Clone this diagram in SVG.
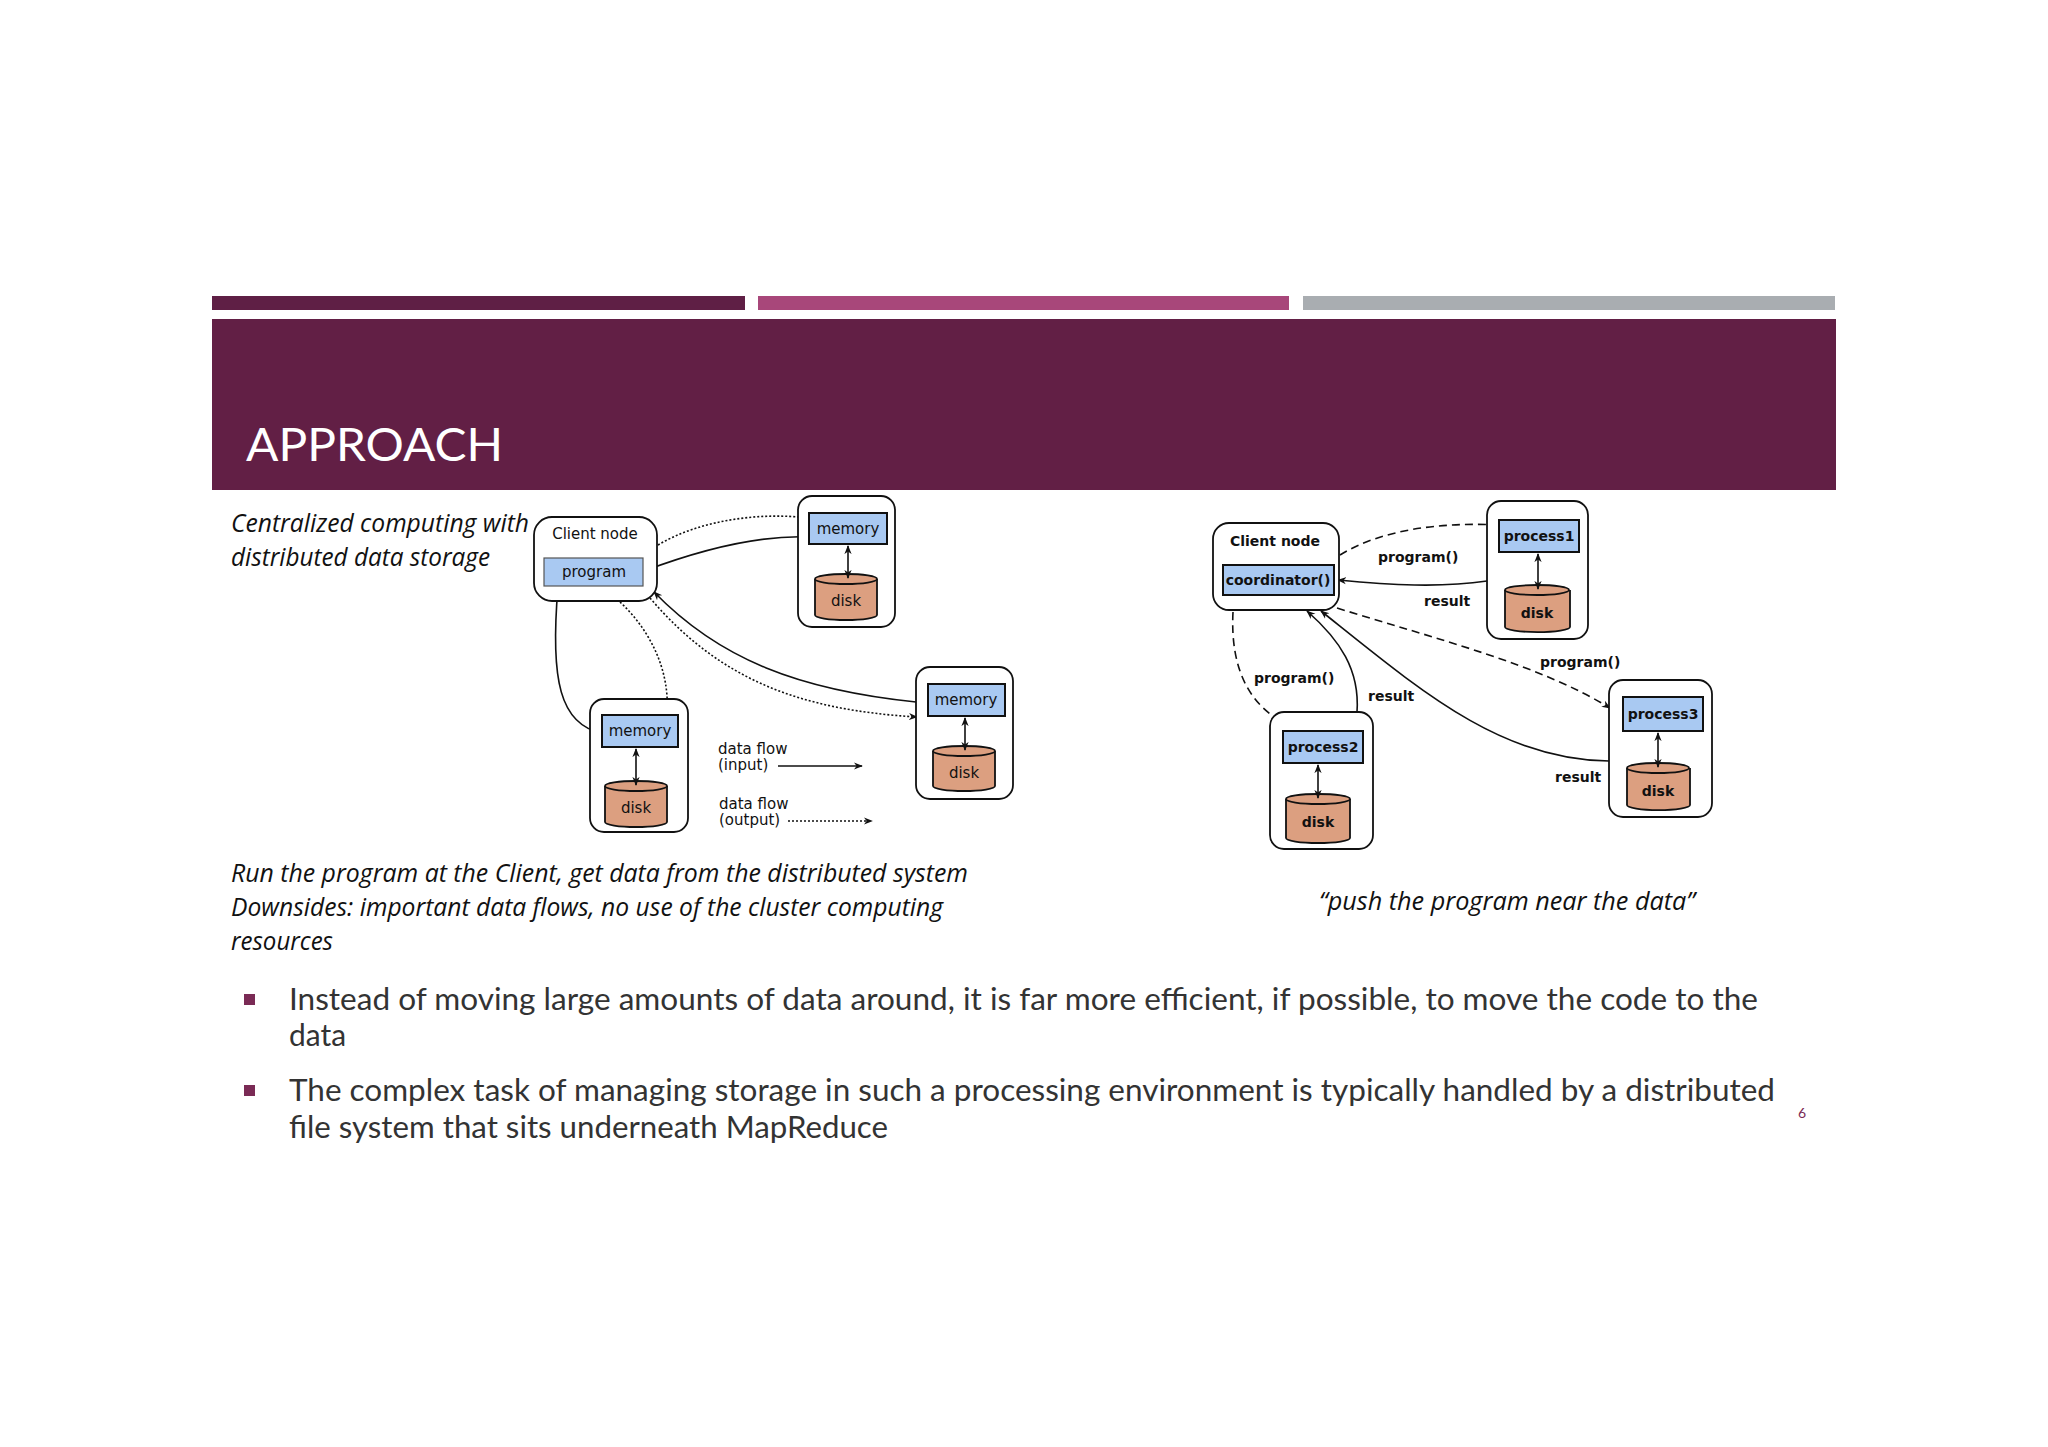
<svg xmlns="http://www.w3.org/2000/svg" width="2048" height="1447" viewBox="0 0 2048 1447">
<style>
.nb{fill:#fff;stroke:#111;stroke-width:1.8}
.bx{fill:#a9c9f2;stroke:#111;stroke-width:2}
.bx2{fill:#a9c9f2;stroke:#555;stroke-width:1.2}
.dk{fill:#dc9f80;stroke:#111;stroke-width:1.8}
.dt{font-family:"DejaVu Sans",sans-serif;font-size:15px;fill:#111;text-anchor:middle}
.lb{font-family:"DejaVu Sans",sans-serif;font-size:14px;font-weight:bold;fill:#111}
.it{font-family:"Open Sans","Liberation Sans",sans-serif;font-style:italic;font-size:26px;fill:#111}
.bt{font-family:"Lato","Liberation Sans",sans-serif;font-size:31px;fill:#333}
.s{fill:none;stroke:#111;stroke-width:1.6}
.d{fill:none;stroke:#111;stroke-width:1.6;stroke-dasharray:2 2}
.da{fill:none;stroke:#111;stroke-width:1.6;stroke-dasharray:8 5}
</style>
<defs>
<marker id="a" viewBox="0 0 10 10" refX="9" refY="5" markerWidth="9" markerHeight="9" markerUnits="userSpaceOnUse" orient="auto-start-reverse"><path d="M0,1 L10,5 L0,9 L3,5 z" fill="#111"/></marker>
</defs>
<rect width="2048" height="1447" fill="#fff"/>
<rect x="212" y="296" width="533" height="14" fill="#5f1f45"/>
<rect x="758" y="296" width="531" height="14" fill="#a8477a"/>
<rect x="1303" y="296" width="532" height="14" fill="#a9adb1"/>
<rect x="212" y="319" width="1624" height="171" fill="#621f45"/>
<text x="246" y="461" font-family="Lato,'Liberation Sans',sans-serif" font-size="47" fill="#fff" textLength="257" lengthAdjust="spacingAndGlyphs">APPROACH</text>

<text class="it" x="231" y="532" textLength="298" lengthAdjust="spacingAndGlyphs">Centralized computing with</text>
<text class="it" x="231" y="566" textLength="259" lengthAdjust="spacingAndGlyphs">distributed data storage</text>

<g id="connectors-left">
<path class="d" d="M658,545 C700,520 760,512 808,518" marker-end="url(#a)"/>
<path class="s" d="M809,537 C760,535 700,550 644,571" marker-end="url(#a)"/>
<path class="s" d="M602,733 C560,725 550,680 558,587" marker-end="url(#a)"/>
<path class="d" d="M620,602 C650,630 670,670 667,713" marker-end="url(#a)"/>
<path class="s" d="M916,702 C800,690 720,660 654,592" marker-end="url(#a)"/>
<path class="d" d="M650,598 C720,680 800,710 917,717" marker-end="url(#a)"/>
<path class="s" d="M778,766 L862,766" marker-end="url(#a)"/>
<path class="d" d="M788,821 L872,821" marker-end="url(#a)"/>
</g>

<g id="client-left">
<rect class="nb" x="534" y="517" width="123" height="84" rx="18"/>
<text class="dt" x="595" y="539">Client node</text>
<rect class="bx2" x="544" y="558" width="99" height="28"/>
<text class="dt" x="594" y="577">program</text>
</g>
<g id="node-top">
<rect class="nb" x="798" y="496" width="97" height="131" rx="14"/>
<rect class="bx" x="809" y="513" width="78" height="31"/>
<text class="dt" x="848" y="534">memory</text>
<path class="dk" d="M815,579 v36 a31,5 0 0 0 62,0 v-36"/>
<ellipse class="dk" cx="846" cy="579" rx="31" ry="5"/>
<text class="dt" x="846" y="606">disk</text>
<path class="s" d="M848,546 L848,578" marker-start="url(#a)" marker-end="url(#a)"/>
</g>
<g id="node-bl">
<rect class="nb" x="590" y="699" width="98" height="133" rx="14"/>
<rect class="bx" x="602" y="715" width="76" height="32"/>
<text class="dt" x="640" y="736">memory</text>
<path class="dk" d="M605,786 v36 a31,5 0 0 0 62,0 v-36"/>
<ellipse class="dk" cx="636" cy="786" rx="31" ry="5"/>
<text class="dt" x="636" y="813">disk</text>
<path class="s" d="M636,749 L636,785" marker-start="url(#a)" marker-end="url(#a)"/>
</g>
<g id="node-right">
<rect class="nb" x="916" y="667" width="97" height="132" rx="14"/>
<rect class="bx" x="928" y="684" width="77" height="32"/>
<text class="dt" x="966" y="705">memory</text>
<path class="dk" d="M933,751 v35 a31,5 0 0 0 62,0 v-35"/>
<ellipse class="dk" cx="964" cy="751" rx="31" ry="5"/>
<text class="dt" x="964" y="778">disk</text>
<path class="s" d="M965,718 L965,750" marker-start="url(#a)" marker-end="url(#a)"/>
</g>
<g id="legend">
<text class="dt" x="718" y="754" text-anchor="start" style="text-anchor:start">data flow</text>
<text class="dt" x="718" y="770" style="text-anchor:start">(input)</text>
<text class="dt" x="719" y="809" style="text-anchor:start">data flow</text>
<text class="dt" x="719" y="825" style="text-anchor:start">(output)</text>
</g>

<g id="connectors-right">
<path class="da" d="M1340,555 C1380,530 1440,522 1497,525" marker-end="url(#a)"/>
<path class="s" d="M1487,581 C1440,588 1390,585 1338,580" marker-end="url(#a)"/>
<path class="da" d="M1337,608 C1440,640 1540,665 1610,708" marker-end="url(#a)"/>
<path class="s" d="M1609,761 C1500,760 1420,690 1321,611" marker-end="url(#a)"/>
<path class="da" d="M1233,612 C1230,670 1250,710 1295,728" marker-end="url(#a)"/>
<path class="s" d="M1357,712 C1360,670 1340,640 1307,611" marker-end="url(#a)"/>
</g>
<g id="labels-right">
<text class="lb" x="1378" y="562">program()</text>
<text class="lb" x="1424" y="606">result</text>
<text class="lb" x="1540" y="667">program()</text>
<text class="lb" x="1254" y="683">program()</text>
<text class="lb" x="1368" y="701">result</text>
<text class="lb" x="1555" y="782">result</text>
</g>
<g id="client-right">
<rect class="nb" x="1213" y="523" width="126" height="87" rx="16"/>
<text class="lb" x="1275" y="546" text-anchor="middle">Client node</text>
<rect class="bx" x="1223" y="565" width="111" height="30"/>
<text class="lb" x="1278" y="585" text-anchor="middle">coordinator()</text>
</g>
<g id="process1">
<rect class="nb" x="1487" y="501" width="101" height="138" rx="14"/>
<rect class="bx" x="1499" y="520" width="80" height="32"/>
<text class="lb" x="1539" y="541" text-anchor="middle">process1</text>
<path class="dk" d="M1505,590 v37 a32,5 0 0 0 65,0 v-37"/>
<ellipse class="dk" cx="1537" cy="590" rx="32" ry="5"/>
<text class="lb" x="1537" y="618" text-anchor="middle">disk</text>
<path class="s" d="M1538,554 L1538,589" marker-start="url(#a)" marker-end="url(#a)"/>
</g>
<g id="process2">
<rect class="nb" x="1270" y="712" width="103" height="137" rx="14"/>
<rect class="bx" x="1283" y="731" width="80" height="32"/>
<text class="lb" x="1323" y="752" text-anchor="middle">process2</text>
<path class="dk" d="M1286,799 v39 a32,5 0 0 0 64,0 v-39"/>
<ellipse class="dk" cx="1318" cy="799" rx="32" ry="5"/>
<text class="lb" x="1318" y="827" text-anchor="middle">disk</text>
<path class="s" d="M1318,765 L1318,798" marker-start="url(#a)" marker-end="url(#a)"/>
</g>
<g id="process3">
<rect class="nb" x="1609" y="680" width="103" height="137" rx="14"/>
<rect class="bx" x="1623" y="697" width="80" height="34"/>
<text class="lb" x="1663" y="719" text-anchor="middle">process3</text>
<path class="dk" d="M1627,768 v37 a31,5 0 0 0 63,0 v-37"/>
<ellipse class="dk" cx="1658" cy="768" rx="31" ry="5"/>
<text class="lb" x="1658" y="796" text-anchor="middle">disk</text>
<path class="s" d="M1658,733 L1658,767" marker-start="url(#a)" marker-end="url(#a)"/>
</g>

<text class="it" x="231" y="882" textLength="737" lengthAdjust="spacingAndGlyphs">Run the program at the Client, get data from the distributed system</text>
<text class="it" x="231" y="916" textLength="712" lengthAdjust="spacingAndGlyphs">Downsides: important data flows, no use of the cluster computing</text>
<text class="it" x="231" y="950" textLength="102" lengthAdjust="spacingAndGlyphs">resources</text>
<text class="it" x="1319" y="910" textLength="376" lengthAdjust="spacingAndGlyphs">“push the program near the data”</text>

<rect x="244" y="994" width="11" height="11" fill="#7a2a55"/>
<text class="bt" x="289" y="1010" textLength="1469" lengthAdjust="spacingAndGlyphs">Instead of moving large amounts of data around, it is far more efficient, if possible, to move the code to the</text>
<text class="bt" x="289" y="1046" textLength="57" lengthAdjust="spacingAndGlyphs">data</text>
<rect x="244" y="1085" width="11" height="11" fill="#7a2a55"/>
<text class="bt" x="289" y="1101" textLength="1486" lengthAdjust="spacingAndGlyphs">The complex task of managing storage in such a processing environment is typically handled by a distributed</text>
<text class="bt" x="289" y="1138" textLength="599" lengthAdjust="spacingAndGlyphs">file system that sits underneath MapReduce</text>
<text x="1798" y="1118" font-family="Lato,sans-serif" font-size="14" fill="#7a2a55">6</text>
</svg>
